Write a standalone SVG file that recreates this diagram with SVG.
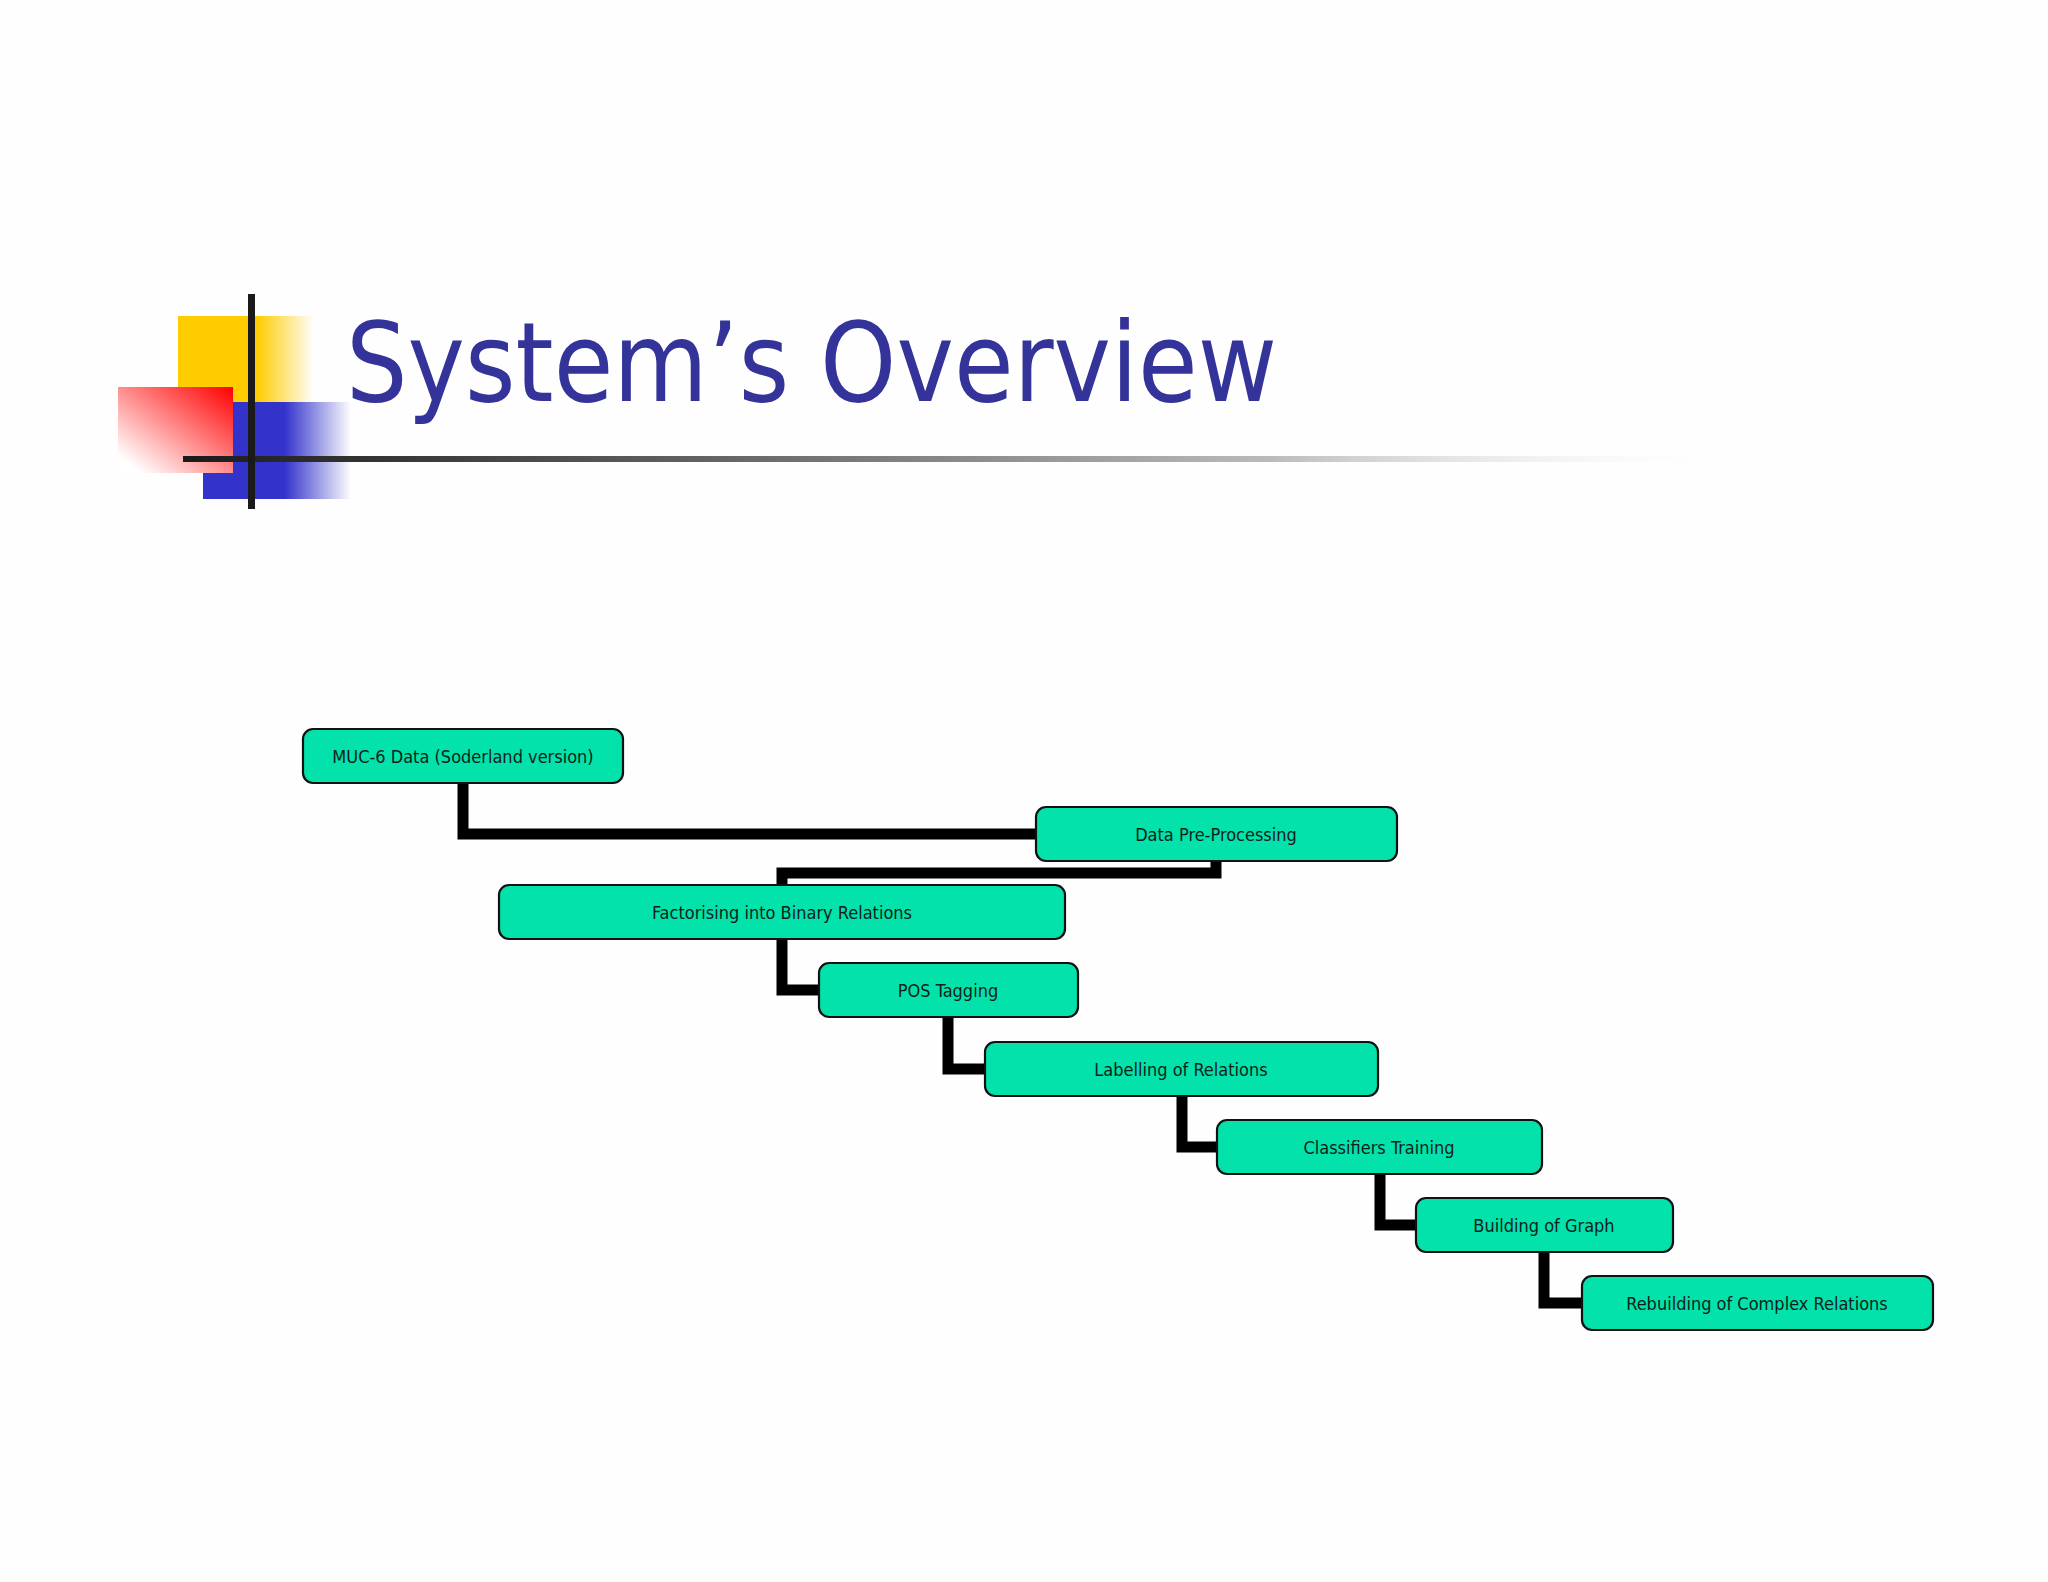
<svg xmlns="http://www.w3.org/2000/svg" width="2048" height="1582" viewBox="0 0 2048 1582">
<defs>
<style>
.box{fill:#02E2AA;stroke:#111;stroke-width:2.2}
.lbl{font-family:"DejaVu Sans Condensed","DejaVu Sans","Liberation Sans",sans-serif;font-stretch:condensed;font-size:18px;fill:#0d1f1a;text-anchor:middle}
.con{fill:none;stroke:#000;stroke-width:11;stroke-linejoin:miter;stroke-linecap:butt}
</style>
<linearGradient id="gy" x1="0" y1="0" x2="1" y2="0">
<stop offset="0" stop-color="#FFCC00"/>
<stop offset="0.58" stop-color="#FFCC00"/>
<stop offset="1" stop-color="#FFCC00" stop-opacity="0"/>
</linearGradient>
<linearGradient id="gb" x1="0" y1="0" x2="1" y2="0">
<stop offset="0" stop-color="#3333CC"/>
<stop offset="0.55" stop-color="#3333CC"/>
<stop offset="1" stop-color="#3333CC" stop-opacity="0"/>
</linearGradient>
<linearGradient id="gr" x1="1" y1="0" x2="0" y2="1">
<stop offset="0" stop-color="#FF0000"/>
<stop offset="0.45" stop-color="#FF8080"/>
<stop offset="0.9" stop-color="#FFFFFF"/>
<stop offset="1" stop-color="#FFFFFF"/>
</linearGradient>
<linearGradient id="gl" x1="183" y1="0" x2="1740" y2="0" gradientUnits="userSpaceOnUse">
<stop offset="0" stop-color="#1a1a1a"/>
<stop offset="0.35" stop-color="#666"/>
<stop offset="0.7" stop-color="#bbb"/>
<stop offset="1" stop-color="#fff" stop-opacity="0"/>
</linearGradient>
</defs>
<rect width="2048" height="1582" fill="#fefefe"/>
<g id="logo">
<rect x="178" y="316" width="136" height="86" fill="url(#gy)"/>
<rect x="203" y="402" width="148" height="97" fill="url(#gb)"/>
<rect x="118" y="387" width="115" height="86" fill="url(#gr)"/>
<rect x="183" y="456" width="1557" height="6" fill="url(#gl)"/>
<rect x="248" y="294" width="7" height="215" fill="#1a1a1a"/>
</g>
<g id="title">
<text x="346" y="401" font-family="DejaVu Sans,Liberation Sans,sans-serif" font-size="110" fill="#333399" textLength="931" lengthAdjust="spacingAndGlyphs">System’s Overview</text>
</g>
<g id="connectors">
<path class="con" d="M463,783 V834 H1040"/>
<path class="con" d="M1216,861 V873 H782 V889"/>
<path class="con" d="M782,939 V990 H823"/>
<path class="con" d="M948,1017 V1069 H989"/>
<path class="con" d="M1182,1096 V1147 H1221"/>
<path class="con" d="M1380,1174 V1225 H1420"/>
<path class="con" d="M1544,1252 V1303 H1586"/>
</g>
<g id="n1"><rect class="box" x="303" y="729" width="320" height="54" rx="10"/><text class="lbl" x="463" y="763">MUC-6 Data (Soderland version)</text></g>
<g id="n2"><rect class="box" x="1036" y="807" width="361" height="54" rx="10"/><text class="lbl" x="1216" y="841">Data Pre-Processing</text></g>
<g id="n3"><rect class="box" x="499" y="885" width="566" height="54" rx="10"/><text class="lbl" x="782" y="919">Factorising into Binary Relations</text></g>
<g id="n4"><rect class="box" x="819" y="963" width="259" height="54" rx="10"/><text class="lbl" x="948" y="997">POS Tagging</text></g>
<g id="n5"><rect class="box" x="985" y="1042" width="393" height="54" rx="10"/><text class="lbl" x="1181" y="1076">Labelling of Relations</text></g>
<g id="n6"><rect class="box" x="1217" y="1120" width="325" height="54" rx="10"/><text class="lbl" x="1379" y="1154">Classifiers Training</text></g>
<g id="n7"><rect class="box" x="1416" y="1198" width="257" height="54" rx="10"/><text class="lbl" x="1544" y="1232">Building of Graph</text></g>
<g id="n8"><rect class="box" x="1582" y="1276" width="351" height="54" rx="10"/><text class="lbl" x="1757" y="1310">Rebuilding of Complex Relations</text></g>
</svg>
